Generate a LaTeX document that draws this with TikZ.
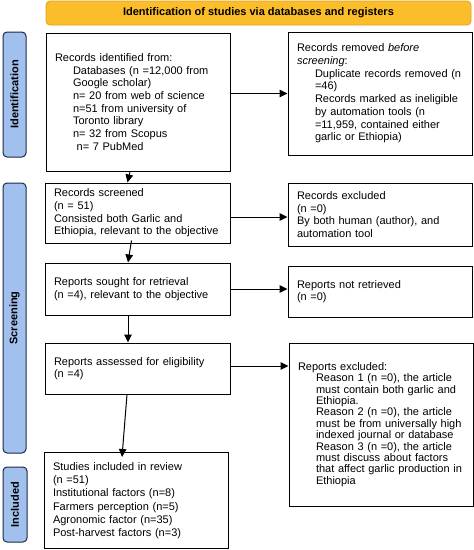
\documentclass[tikz,border=0pt]{standalone}
\usepackage{fontspec}
\setmainfont{Liberation Sans}
\usetikzlibrary{arrows.meta,calc}
\definecolor{bannerfill}{HTML}{FBBE2A}
\definecolor{bannerdraw}{HTML}{E3A21A}
\definecolor{sidefill}{HTML}{A2C0EE}
\definecolor{sidedraw}{HTML}{1C2A48}
\newcommand{\myind}{\hspace*{18pt}}
\begin{document}
\begin{tikzpicture}[x=1pt,y=-1pt,
  box/.style={draw=black, line width=1pt, align=left, inner xsep=9pt, inner ysep=0pt, anchor=center, font=\fontsize{11}{12.7}\selectfont},
  arr/.style={-{Triangle[length=8pt,width=7.5pt]}, line width=1pt},
  side/.style={draw=sidedraw, fill=sidefill, line width=1pt, rounded corners=4pt, inner sep=0pt, rotate=90, font=\fontsize{11}{12}\selectfont\bfseries},
  banner/.style={draw=bannerdraw, fill=bannerfill, line width=0.8pt, rounded corners=4pt, inner sep=0pt, font=\fontsize{11}{12}\selectfont\bfseries}]
\useasboundingbox (0,0) rectangle (474,550);
\fill[white] (0,0) rectangle (474,550);

\node[banner, minimum width=425pt, minimum height=24pt] (ban) at (258.5,13) {Identification of studies via databases and registers};

\node[side, minimum width=125pt, minimum height=23pt] (sid) at (14.5,94.5) {Identification};
\node[side, minimum width=270pt, minimum height=23pt] (sscr) at (14.5,318) {Screening};
\node[side, minimum width=75pt, minimum height=24pt] (sinc) at (15,504.5) {Included};

\node[box, text width=166pt, minimum height=138pt] (b1) at (138,102) {Records identified from:\\
\myind Databases (n =12,000 from\\
\myind Google scholar)\\
\myind n= 20 from web of science\\
\myind n=51 from university of\\
\myind Toronto library\\
\myind n= 32 from Scopus\\
\myind\ n= 7 PubMed};

\node[box, text width=166pt, minimum height=123pt] (r1) at (380,93.5) {Records removed \textit{before}\\
\textit{screening}:\\
\myind Duplicate records removed (n\\
\myind =46)\\
\myind Records marked as ineligible\\
\myind by automation tools (n\\
\myind =11,959, contained either\\
\myind garlic or Ethiopia)};

\node[box, text width=167pt, minimum height=60pt] (b2) at (137.5,213) {Records screened\\
(n = 51)\\
Consisted both Garlic and\\
Ethiopia, relevant to the objective};

\node[box, text width=166pt, minimum height=63pt] (r2) at (380,214.5) {Records excluded\\
(n =0)\\
By both human (author), and\\
automation tool};

\node[box, text width=167pt, minimum height=52pt] (b3) at (137.5,289) {Reports sought for retrieval\\
(n =4), relevant to the objective};

\node[box, text width=166pt, minimum height=51pt] (r3) at (380,291.5) {Reports not retrieved\\
(n =0)};

\node[box, text width=167pt, minimum height=51pt] (b4) at (137.5,368.5) {Reports assessed for eligibility\\
(n =4)};

\node[box, text width=166pt, minimum height=163pt, font=\fontsize{11}{11.4}\selectfont] (r4) at (381,424.5) {Reports excluded:\\
\myind Reason 1 (n =0), the article\\
\myind must contain both garlic and\\
\myind Ethiopia.\\
\myind Reason 2 (n =0), the article\\
\myind must be from universally high\\
\myind indexed journal or database\\
\myind Reason 3 (n =0), the article\\
\myind must discuss about factors\\
\myind that affect garlic production in\\
\myind Ethiopia};

\node[box, text width=166pt, minimum height=96pt, font=\fontsize{11}{13.3}\selectfont] (b5) at (136,500.5) {Studies included in review\\
(n =51)\\
Institutional factors (n=8)\\
Farmers perception (n=5)\\
Agronomic factor (n=35)\\
Post-harvest factors (n=3)};

\draw[arr] (b1.east |- r1.west) -- (r1.west);
\draw[arr] ([yshift=-4pt]b2.east) -- ([yshift=-4pt]b2.east -| r2.west);
\draw[arr] (b3.east) -- (b3.east -| r3.west);
\draw[arr] ([yshift=2.5pt]b4.east) -- ([yshift=2.5pt]b4.east -| r4.west);

\draw[arr] ([xshift=-8pt]b1.south) -- ([xshift=-10pt]b2.north);
\draw[arr] ([xshift=-6pt,yshift=3pt]b2.south) -- ([xshift=-9.5pt]b3.north);
\draw[arr] ([xshift=-9.5pt]b3.south) -- ([xshift=-9.5pt]b4.north);
\draw[arr] ([xshift=-10.5pt]b4.south) -- ([xshift=-14pt,yshift=-5pt]b5.north);
\end{tikzpicture}
\end{document}
